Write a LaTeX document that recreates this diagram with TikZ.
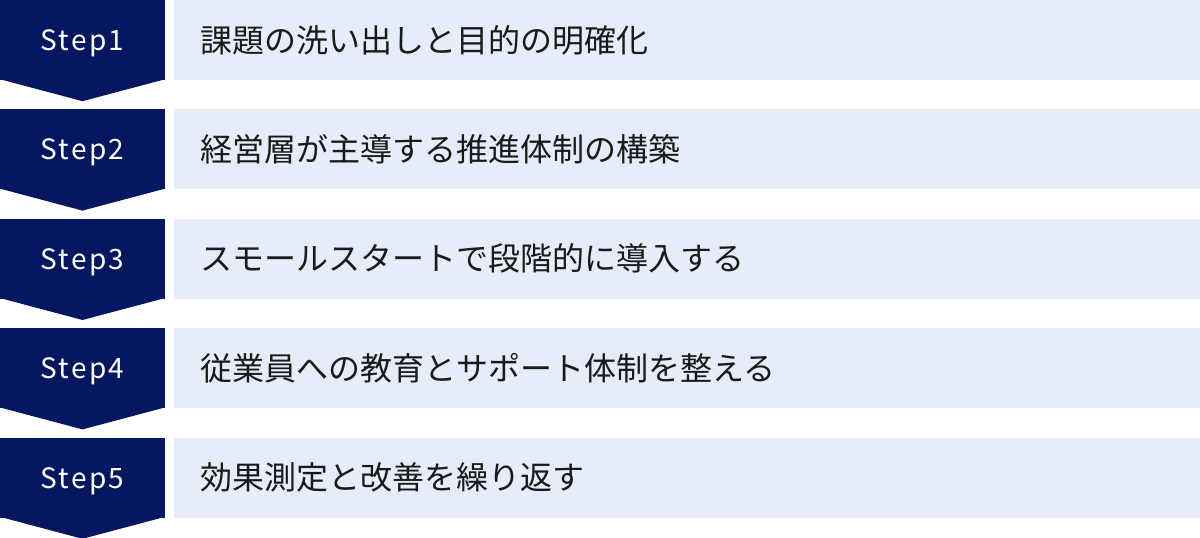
\documentclass[tikz,border=0pt]{standalone}
\usepackage{fontspec}
\usepackage{tikz}
\usetikzlibrary{positioning}
\newfontfamily\jpfont{Noto Sans CJK JP}
\newfontfamily\stepfont[LetterSpace=8]{Noto Sans CJK JP}
\definecolor{navy}{HTML}{061761}
\definecolor{paleblue}{HTML}{E6ECF9}
\definecolor{inkblack}{HTML}{1A1A1A}
\tikzstyle{stepbox} = [rectangle, fill=navy, text=white, minimum width=165pt,
                minimum height=80pt, inner sep=0pt, text height=21pt, text depth=0pt,
                font=\stepfont\fontsize{28pt}{32pt}\selectfont]
\tikzstyle{taskbar} = [rectangle, fill=paleblue, text=inkblack, minimum width=1026pt,
                minimum height=80pt, inner xsep=26pt, inner ysep=0pt, text width=974pt,
                align=left, font=\jpfont\fontsize{32pt}{38pt}\selectfont]
\tikzstyle{tip} = [fill=navy]

\begin{document}
\begin{tikzpicture}
        \useasboundingbox (0,0) rectangle (1200pt,-538pt);
        \node[stepbox] (step1) at (82.5pt,-40pt) {Step1};
        \node[stepbox, below=29pt of step1] (step2) {Step2};
        \node[stepbox, below=29pt of step2] (step3) {Step3};
        \node[stepbox, below=29pt of step3] (step4) {Step4};
        \node[stepbox, below=29pt of step4] (step5) {Step5};
        \node[taskbar, right=9pt of step1] (task1) {課題の洗い出しと目的の明確化};
        \node[taskbar, right=9pt of step2] (task2) {経営層が主導する推進体制の構築};
        \node[taskbar, right=9pt of step3] (task3) {スモールスタートで段階的に導入する};
        \node[taskbar, right=9pt of step4] (task4) {従業員への教育とサポート体制を整える};
        \node[taskbar, right=9pt of step5] (task5) {効果測定と改善を繰り返す};
        % arrow tips under each step, overlapping the box a little
        \fill[tip] ([yshift=1pt]step1.south west) -- ([yshift=1pt]step1.south east) -- ([yshift=-21pt]step1.south) -- cycle;
        \fill[tip] ([yshift=1pt]step2.south west) -- ([yshift=1pt]step2.south east) -- ([yshift=-21pt]step2.south) -- cycle;
        \fill[tip] ([yshift=1pt]step3.south west) -- ([yshift=1pt]step3.south east) -- ([yshift=-21pt]step3.south) -- cycle;
        \fill[tip] ([yshift=1pt]step4.south west) -- ([yshift=1pt]step4.south east) -- ([yshift=-21pt]step4.south) -- cycle;
        \fill[tip] ([yshift=1pt]step5.south west) -- ([yshift=1pt]step5.south east) -- ([yshift=-21pt]step5.south) -- cycle;
\end{tikzpicture}
\end{document}
